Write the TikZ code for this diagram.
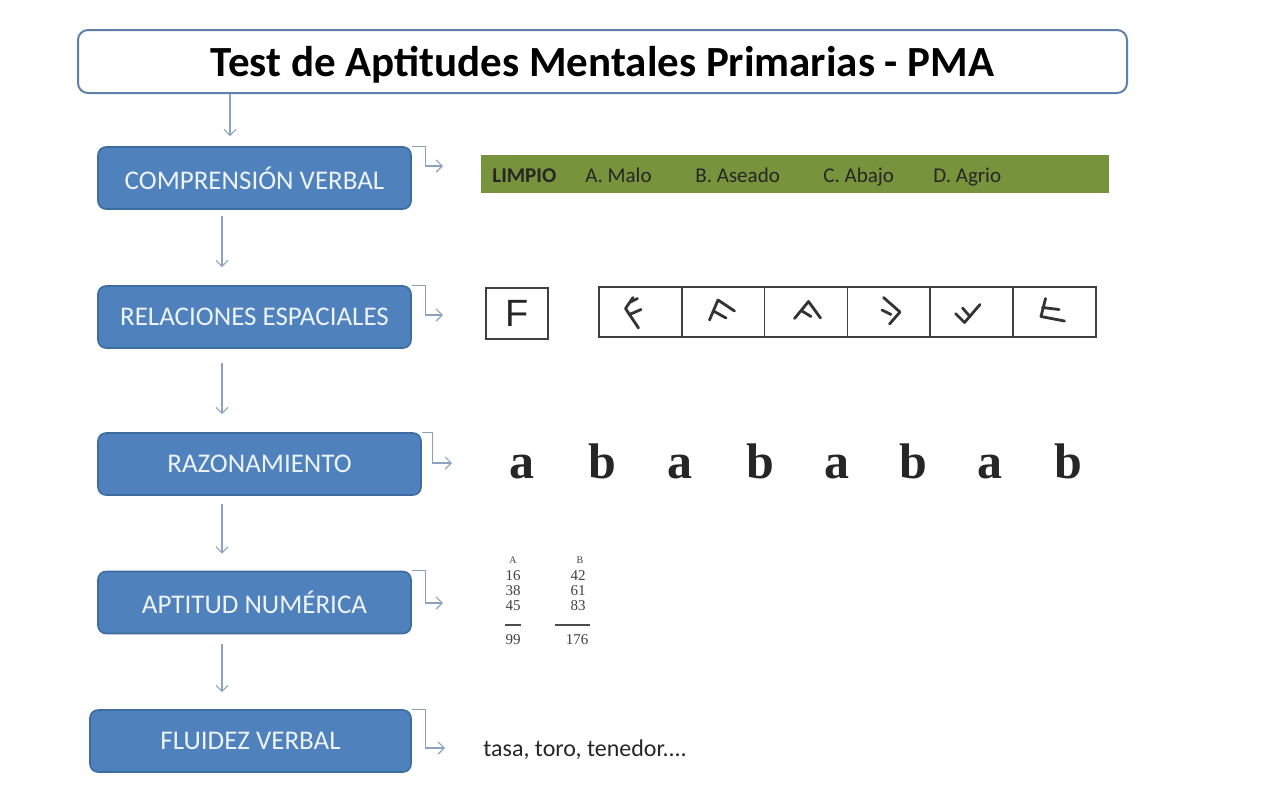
\documentclass[tikz,border=0pt]{standalone}
\usepackage{fontspec}
\setmainfont{Carlito}
\newfontfamily\figFont{Liberation Sans}
\newfontfamily\bookFont{Liberation Serif}
\usetikzlibrary{arrows.meta,positioning,calc}

\definecolor{boxBlue}{HTML}{4F81BD}
\definecolor{boxLine}{HTML}{3E6C9E}
\definecolor{linkGray}{HTML}{8CA3BF}
\definecolor{barGreen}{HTML}{77933C}
\definecolor{titleLine}{HTML}{5F80A8}

\begin{document}
\begin{tikzpicture}[x=0.5pt,y=-0.5pt,every text node part/.style={align=center}]
\tikzset{myFont/.style={font=\fontsize{13.5}{15}\selectfont}}
\tikzset{myBox/.style={draw=boxLine,fill=boxBlue,rounded corners=4pt,line width=0.8pt,minimum height=31pt,text=white!90!boxBlue,myFont}}
\tikzset{myLink/.style={draw=linkGray,line width=0.6pt,-{Straight Barb[length=3pt,width=6pt]}}}
\tikzset{myCell/.style={draw=black!75,line width=0.8pt,minimum width=41.4pt,minimum height=25pt,inner sep=0pt,outer sep=0pt}}
\tikzset{myItem/.style={anchor=base west,inner sep=0pt,font=\fontsize{10.5}{12}\selectfont,text=black!85}}
\tikzset{myStroke/.style={draw=black!80,line width=1.4pt,line cap=round,line join=round}}
\tikzset{myNum/.style={font=\bookFont\fontsize{7.5}{7.5}\selectfont,text=black!75,inner sep=0pt}}

\useasboundingbox (0,0) rectangle (1280,811);

\node[draw=titleLine,line width=1pt,rounded corners=5pt,minimum width=524.5pt,minimum height=31.5pt,text depth=0pt,font=\bfseries\fontsize{21.5}{24}\selectfont] (title) at (602.5,61.5) {Test de Aptitudes Mentales Primarias - PMA};

\node[myBox,minimum width=156.5pt] (verbal) at (254.5,178) {COMPRENSIÓN VERBAL};
\node[myBox,minimum width=156.5pt] (spatial) at (254.5,317) {RELACIONES ESPACIALES};
\node[myBox,minimum width=161.5pt] (reason) at (259.5,464) {RAZONAMIENTO};
\node[myBox,minimum width=156.5pt] (numeric) at (254.5,602.5) {APTITUD NUMÉRICA};
\node[myBox,minimum width=160.5pt] (fluency) at (250.5,741) {FLUIDEZ VERBAL};

\coordinate (downX) at (222,0);
\coordinate (titleX) at (230,0);
\path[myLink,shorten >=5pt] (title.south -| titleX) -- (verbal.north -| titleX);
\path[myLink,shorten <=3pt,shorten >=9pt] (verbal.south -| downX) -- (spatial.north -| downX);
\path[myLink,shorten <=7pt,shorten >=9pt] (spatial.south -| downX) -- (reason.north -| downX);
\path[myLink,shorten <=4pt,shorten >=8.5pt] (reason.south -| downX) -- (numeric.north -| downX);
\path[myLink,shorten <=5pt,shorten >=8.5pt] (numeric.south -| downX) -- (fluency.north -| downX);

% examples
\node[fill=barGreen,minimum width=314pt,minimum height=19pt,inner sep=0pt] (wordBar) at (795,174) {};
\node[myItem,font=\bfseries\fontsize{10.5}{12}\selectfont] (wordQ) at (492,182) {LIMPIO};
\node[myItem] (wordA) at (585,182) {A. Malo};
\node[myItem] (wordB) at (695,182) {B. Aseado};
\node[myItem] (wordC) at (823,182) {C. Abajo};
\node[myItem] (wordD) at (933,182) {D. Agrio};

\node[myCell,minimum width=31pt,minimum height=25.5pt,inner sep=0pt,text=black!85,font=\figFont\fontsize{19}{19}\selectfont] (model) at (517,313.5) {F};
\node[myCell] (c1) at (640.4,312) {};
\node[myCell,right=0pt of c1] (c2) {};
\node[myCell,right=0pt of c2] (c3) {};
\node[myCell,right=0pt of c3] (c4) {};
\node[myCell,right=0pt of c4] (c5) {};
\node[myCell,right=0pt of c5] (c6) {};
% turned letters
\draw[myStroke] (633,297.5) -- (625.5,308.5) -- (638.5,328);
\draw[myStroke] (630.5,302) -- (637.5,298.5);
\draw[myStroke] (629.5,314.5) -- (641,309.5);
\draw[myStroke] (709.5,320) -- (718,300) -- (734.5,311);
\draw[myStroke] (713.5,311) -- (726,318);
\draw[myStroke] (794.5,318.5) -- (808.5,301.5) -- (820.5,318);
\draw[myStroke] (802,311) -- (811,316.5);
\draw[myStroke] (883.5,297.5) -- (900,312) -- (889.5,324);
\draw[myStroke] (882,310) -- (891,314.5);
\draw[myStroke] (955.5,313.5) -- (964.5,322.5) -- (980,304.5);
\draw[myStroke] (962.5,308) -- (970,316.5);
\draw[myStroke] (1045.5,298.5) -- (1041,316.5) -- (1064.5,321);
\draw[myStroke] (1042.5,307.5) -- (1059,309.5);

\foreach \x [count=\k] in {522,602,680,760,837,913,990,1068}
  \node[anchor=base,inner sep=0pt,font=\bookFont\bfseries\fontsize{25}{25}\selectfont,text=black!85] (ab\k) at (\x,478) {\ifodd\k a\else b\fi};

\node[myNum,font=\bookFont\fontsize{5}{5}\selectfont] (headA) at (513,560) {A};
\node[myNum,font=\bookFont\fontsize{5}{5}\selectfont] (headB) at (580,560) {B};
\node[myNum,align=left] (colA) at (513,591) {16\\38\\45};
\node[myNum,align=right] (colB) at (578,591) {42\\61\\83};
\node[myNum] (sumA) at (513,640) {99};
\node[myNum] (sumB) at (577,640) {176};
\draw[black!70,line width=0.6pt] (505,625) -- (521,625);
\draw[black!70,line width=0.6pt] (555,625) -- (590,625);

\node[myItem,font=\fontsize{12}{14}\selectfont,text=black!85] (words) at (483,756) {tasa, toro, tenedor....};

\coordinate (e1) at (443,166);
\coordinate (e2) at (443,315);
\coordinate (e3) at (452,463);
\coordinate (e4) at (443,603);
\coordinate (e5) at (445,748);
\path[myLink] (verbal.north east) -- ++(14,0) |- (e1);
\path[myLink] (spatial.north east) -- ++(14,0) |- (e2);
\path[myLink] (reason.north east) -- ++(11,0) |- (e3);
\path[myLink] (numeric.north east) -- ++(14,0) |- (e4);
\path[myLink] (fluency.north east) -- ++(14,0) |- (e5);
\end{tikzpicture}
\end{document}
